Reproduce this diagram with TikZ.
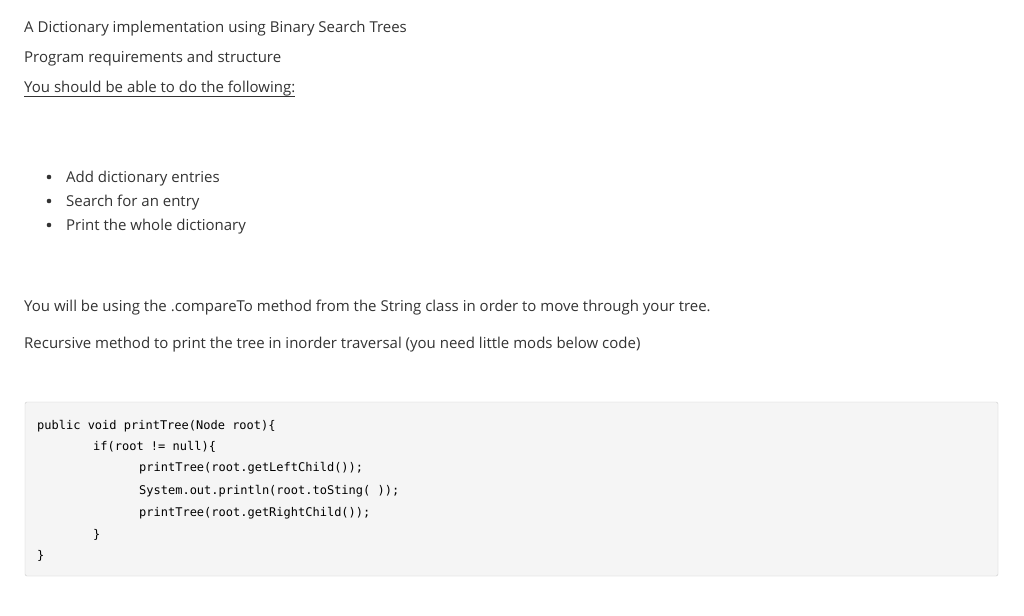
\documentclass[tikz,border=0pt]{standalone}
\usepackage{fontspec}
\setmainfont{Open Sans}
\setmonofont{DejaVu Sans Mono}
\definecolor{txt}{HTML}{333333}
\definecolor{codebg}{HTML}{F5F5F5}
\definecolor{codeborder}{HTML}{CCCCCC}
\begin{document}
\begin{tikzpicture}[x=1pt,y=-1pt,
  t/.style={anchor=base west,inner sep=0pt,text=txt,font=\fontsize{15}{18}\selectfont},
  c/.style={anchor=base west,inner sep=0pt,text=black,font=\ttfamily\fontsize{12}{14}\selectfont}]
\useasboundingbox[fill=white] (0,0) rectangle (1024,615);
\node[t] (l1) at (24,33) {A Dictionary implementation using Binary Search Trees};
\node[t] (l2) at (24,63) {Program requirements and structure};
\node[t] (l3) at (24,93) {You should be able to do the following:};
\draw[txt,line width=0.8] ([yshift=-3]l3.base west) -- ([yshift=-3]l3.base east);
\fill[txt] (49,177) circle (2.3);
\fill[txt] (49,201) circle (2.3);
\fill[txt] (49,225) circle (2.3);
\node[t] (b1) at (66,182) {Add dictionary entries};
\node[t] (b2) at (66,206) {Search for an entry};
\node[t] (b3) at (66,230) {Print the whole dictionary};
\node[t] (l4) at (24,311) {You will be using the .compareTo method from the String class in order to move through your tree.};
\node[t] (l5) at (24,348) {Recursive method to print the tree in inorder traversal (you need little mods below code)};
\draw[codeborder,fill=codebg,rounded corners=2] (25,402) rectangle (998,576);
\node[c] (k1) at (37,429) {public void printTree(Node root)\{};
\node[c] (k2) at (93,450) {if(root != null)\{};
\node[c] (k3) at (139,471) {printTree(root.getLeftChild());};
\node[c] (k4) at (139,494) {System.out.println(root.toSting( ));};
\node[c] (k5) at (139,516) {printTree(root.getRightChild());};
\node[c] (k6) at (93,538) {\}};
\node[c] (k7) at (37,559) {\}};
\end{tikzpicture}
\end{document}
